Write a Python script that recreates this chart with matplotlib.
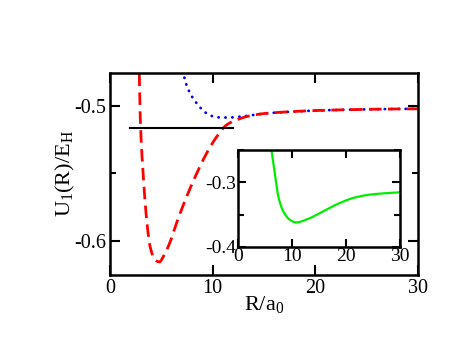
import numpy as np
import matplotlib
matplotlib.use('Agg')
import matplotlib.pyplot as plt
from matplotlib.ticker import MultipleLocator

plt.rcParams['font.family'] = ['Liberation Serif', 'DejaVu Serif']
plt.rcParams['mathtext.fontset'] = 'custom'
plt.rcParams['mathtext.rm'] = 'Liberation Serif'
plt.rcParams['mathtext.it'] = 'Liberation Serif:italic'

# red dashed curve (main panel)
r_red = [2.85, 2.92, 3.24, 3.57, 3.9, 4.38, 4.8, 5.3, 5.84, 6.49, 7.47, 8.44, 9.41,
         10.4, 11.36, 12.3, 13.5, 15.3, 21.8, 28.0, 30.0]
u_red = [-0.476, -0.503, -0.552, -0.5844, -0.604, -0.614, -0.6155, -0.610, -0.6010,
         -0.5865, -0.567, -0.550, -0.535, -0.5227, -0.514, -0.5104, -0.5075, -0.5054,
         -0.503, -0.5022, -0.5021]

# blue dotted curve (main panel)
r_blue = [7.1, 7.3, 7.8, 8.44, 9.4, 10.4, 11.5, 12.7, 15.3, 21.8, 28.0, 30.0]
u_blue = [-0.474, -0.481, -0.4906, -0.498, -0.5054, -0.5084, -0.5086, -0.5079,
          -0.5054, -0.503, -0.5022, -0.5021]

# black horizontal level
r_line = [1.95, 12.0]
u_line = [-0.5163, -0.5163]

# green curve (inset)
r_grn = [6.2, 6.85, 7.46, 8.4, 9.6, 10.8, 12.7, 15.2, 18.3, 21.4, 24.4, 27.0, 30.0]
u_grn = [-0.25, -0.2872, -0.3215, -0.345, -0.358, -0.362, -0.3575, -0.3475, -0.334,
         -0.324, -0.319, -0.317, -0.3154]


def pchip(x, y, per=30):
    # shape preserving cubic through the read points
    x = np.asarray(x, float); y = np.asarray(y, float)
    h = np.diff(x); d = np.diff(y) / h
    m = np.zeros_like(y)
    m[0], m[-1] = d[0], d[-1]
    for k in range(1, len(x) - 1):
        if d[k-1] * d[k] > 0:
            w1 = 2*h[k] + h[k-1]; w2 = h[k] + 2*h[k-1]
            m[k] = (w1 + w2) / (w1/d[k-1] + w2/d[k])
    xs, ys = [], []
    t = np.linspace(0, 1, per, endpoint=False)
    for i in range(len(x) - 1):
        h00 = 2*t**3 - 3*t**2 + 1; h10 = t**3 - 2*t**2 + t
        h01 = -2*t**3 + 3*t**2; h11 = t**3 - t**2
        xs.append(x[i] + t*h[i])
        ys.append(h00*y[i] + h10*h[i]*m[i] + h01*y[i+1] + h11*h[i]*m[i+1])
    xs.append([x[-1]]); ys.append([y[-1]])
    return np.concatenate(xs), np.concatenate(ys)


fig = plt.figure(figsize=(4.74, 3.42), dpi=100)
ax = fig.add_axes([0.2321, 0.1959, 0.6498, 0.5906])

xr, yr = pchip(r_red, u_red)
xb, yb = pchip(r_blue, u_blue)
ax.plot(xb, yb, color='blue', lw=2.0, linestyle=(0, (0.1, 2.4)),
        dash_capstyle='round')
ax.plot(xr, yr, color='red', lw=2.0, linestyle=(0, (4.5, 2.3)))
ax.plot(r_line, u_line, color='black', lw=1.5)

ax.set_xlim(0, 30)
ax.set_ylim(-0.6252, -0.4756)
ax.yaxis.set_minor_locator(MultipleLocator(0.05))
ax.set_yticks([-0.6, -0.5])
ax.set_yticklabels(['-0.6', '-0.5'])
ax.set_xticks([0, 10, 20, 30])
ax.tick_params(which='both', direction='in', top=True, right=True, labelsize=14.5,
               width=1.5, pad=3)
ax.tick_params(which='major', length=7)
ax.tick_params(which='minor', length=4)
for s in ax.spines.values():
    s.set_linewidth(1.8)
ax.set_xlabel(r'R/a$_\mathrm{0}$', fontsize=16, labelpad=-3)
ax.set_ylabel(r'U$_\mathrm{1}$(R)/E$_\mathrm{H}$', fontsize=16, labelpad=-2)

# inset
ins = fig.add_axes([0.502, 0.2778, 0.342, 0.2836])
xg, yg = pchip(r_grn, u_grn)
ins.plot(xg, yg, color='#00ee00', lw=1.6)
ins.set_xlim(0, 30)
ins.set_ylim(-0.4, -0.25)
ins.set_xticks([0, 10, 20, 30])
ins.set_yticks([-0.4, -0.3])
ins.set_yticklabels(['-0.4', '-0.3'])
ins.yaxis.set_minor_locator(MultipleLocator(0.05))
ins.tick_params(which='both', direction='in', top=True, right=True, labelsize=14,
                width=1.5, pad=1)
ins.tick_params(which='major', length=6)
ins.tick_params(which='minor', length=4)
for s in ins.spines.values():
    s.set_linewidth(1.8)

fig.savefig('out.png', dpi=100)
